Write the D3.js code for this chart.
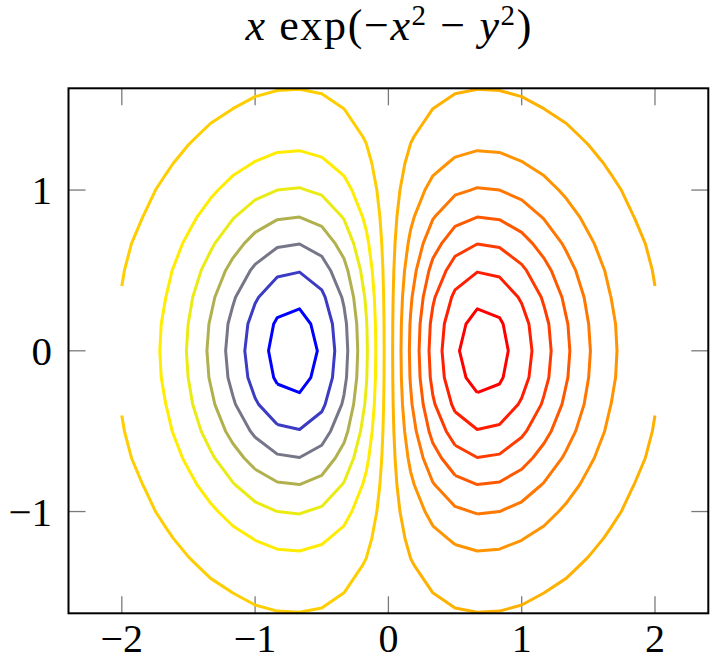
<!DOCTYPE html>
<html>
<head>
<meta charset="utf-8">
<script src="https://cdn.jsdelivr.net/npm/d3@7"></script>
<style>
  html, body { margin: 0; padding: 0; background: #fff; }
  svg { display: block; }
</style>
</head>
<body>
<svg id="chart" width="714" height="662"></svg>
<script>
// ---- data ----
// Surface named in the title: z = x*exp(-x^2 - y^2), sampled 25x25 on [-2,2]^2
const sampleCount = 25;
const sampleDomain = [-2, 2];
// contour levels (14 levels)
const levels = [-0.397, -0.336, -0.275, -0.214, -0.153, -0.092, -0.031,
                 0.031,  0.092,  0.153,  0.214,  0.275,  0.336,  0.397];
const xTicks = [-2, -1, 0, 1, 2];
const yTicks = [-1, 0, 1];
const titleParts = ["x", " exp(−", "x", "2", " − ", "y", "2", ")"];

// ---- layout ----
const svg = d3.select("#chart");
const pL = 68.5, pR = 708.3, pT = 88.3, pB = 613.3;
const x = d3.scaleLinear().domain([-2.4, 2.4]).range([pL, pR]);
const y = d3.scaleLinear().domain([-1.633, 1.633]).range([pB, pT]);

// colormap "hot": blue -> yellow -> orange -> red
const cmap = d3.scaleLinear()
  .domain([0, 1, 2, 3])
  .range(["rgb(0,0,255)", "rgb(255,255,0)", "rgb(255,128,0)", "rgb(255,0,0)"])
  .interpolate(d3.interpolateRgb);
const levelColor = d3.scaleLinear()
  .domain([d3.min(levels), d3.max(levels)]).range([0, 3]);

// ---- grid ----
const xs = d3.range(sampleCount).map(k => sampleDomain[0] + k * (sampleDomain[1] - sampleDomain[0]) / (sampleCount - 1));
const ys = xs.slice();
const surface = (a, b) => a * Math.exp(-a * a - b * b);
const grid = ys.map(yy => xs.map(xx => surface(xx, yy))); // grid[j][i]

// marching squares -> segments
function contourSegments(L) {
  const segs = [];
  for (let j = 0; j < ys.length - 1; j++) {
    for (let i = 0; i < xs.length - 1; i++) {
      const c = [
        [xs[i], ys[j], grid[j][i]],
        [xs[i + 1], ys[j], grid[j][i + 1]],
        [xs[i + 1], ys[j + 1], grid[j + 1][i + 1]],
        [xs[i], ys[j + 1], grid[j + 1][i]]
      ];
      const pts = [];
      for (let e = 0; e < 4; e++) {
        const a = c[e], b = c[(e + 1) % 4];
        if ((a[2] - L) * (b[2] - L) < 0) {
          const t = (L - a[2]) / (b[2] - a[2]);
          pts.push([a[0] + t * (b[0] - a[0]), a[1] + t * (b[1] - a[1])]);
        }
      }
      if (pts.length === 2) segs.push(pts);
      else if (pts.length === 4) {
        const center = (c[0][2] + c[1][2] + c[2][2] + c[3][2]) / 4;
        if ((center - L) * (c[0][2] - L) > 0) { segs.push([pts[0], pts[1]]); segs.push([pts[2], pts[3]]); }
        else { segs.push([pts[0], pts[3]]); segs.push([pts[1], pts[2]]); }
      }
    }
  }
  return segs;
}

// chain segments into polylines
function chain(segs) {
  const key = p => p[0].toFixed(6) + "," + p[1].toFixed(6);
  const used = new Array(segs.length).fill(false);
  const byKey = new Map();
  segs.forEach((s, idx) => {
    s.forEach(p => {
      const k = key(p);
      if (!byKey.has(k)) byKey.set(k, []);
      byKey.get(k).push(idx);
    });
  });
  const lines = [];
  for (let s = 0; s < segs.length; s++) {
    if (used[s]) continue;
    used[s] = true;
    let line = [segs[s][0], segs[s][1]];
    for (let dir = 0; dir < 2; dir++) {
      let extended = true;
      while (extended) {
        extended = false;
        const end = line[line.length - 1];
        const cand = byKey.get(key(end)) || [];
        for (const idx of cand) {
          if (used[idx]) continue;
          used[idx] = true;
          const sg = segs[idx];
          line.push(key(sg[0]) === key(end) ? sg[1] : sg[0]);
          extended = true;
          break;
        }
      }
      line.reverse();
    }
    lines.push(line);
  }
  return lines;
}

svg.append("defs").append("clipPath").attr("id", "clip")
  .append("rect").attr("x", pL).attr("y", pT)
  .attr("width", pR - pL).attr("height", pB - pT);

// ticks (inside, both sides)
const tickLen = 17;
const tg = svg.append("g").attr("stroke", "#7a7a7a").attr("stroke-width", 1.3);
xTicks.forEach(t => {
  tg.append("line").attr("x1", x(t)).attr("x2", x(t)).attr("y1", pB).attr("y2", pB - tickLen);
  tg.append("line").attr("x1", x(t)).attr("x2", x(t)).attr("y1", pT).attr("y2", pT + tickLen);
});
yTicks.forEach(t => {
  tg.append("line").attr("y1", y(t)).attr("y2", y(t)).attr("x1", pL).attr("x2", pL + tickLen);
  tg.append("line").attr("y1", y(t)).attr("y2", y(t)).attr("x1", pR).attr("x2", pR - tickLen);
});

// contours
const lineGen = d3.line().x(d => x(d[0])).y(d => y(d[1]));
const cg = svg.append("g").attr("clip-path", "url(#clip)");
levels.forEach(L => {
  const lines = chain(contourSegments(L));
  const col = cmap(levelColor(L));
  lines.forEach(ln => {
    cg.append("path").attr("d", lineGen(ln))
      .attr("fill", "none").attr("stroke", col)
      .attr("stroke-width", 3).attr("stroke-linejoin", "round").attr("stroke-linecap", "butt");
  });
});

// frame
svg.append("rect").attr("x", pL).attr("y", pT)
  .attr("width", pR - pL).attr("height", pB - pT)
  .attr("fill", "none").attr("stroke", "#000").attr("stroke-width", 2);

// tick labels
const fmt = v => (v < 0 ? "\u2212" : "") + Math.abs(v);
const font = "'Liberation Serif', 'Times New Roman', serif";
svg.append("g").selectAll("text").data(xTicks).join("text")
  .attr("x", d => x(d)).attr("y", 652)
  .attr("text-anchor", "middle").attr("font-family", font).attr("font-size", 40)
  .text(fmt);
svg.append("g").selectAll("text").data(yTicks).join("text")
  .attr("x", 52).attr("y", d => y(d) + 14)
  .attr("text-anchor", "end").attr("font-family", font).attr("font-size", 41)
  .text(fmt);

// title
const title = svg.append("text").attr("x", x(0)).attr("y", 40)
  .attr("text-anchor", "middle").attr("font-family", font).attr("font-size", 44)
  .attr("textLength", 286).attr("lengthAdjust", "spacing");
title.append("tspan").attr("font-style", "italic").text(titleParts[0]);
title.append("tspan").text(titleParts[1]);
title.append("tspan").attr("font-style", "italic").text(titleParts[2]);
title.append("tspan").attr("font-size", 29).attr("dy", -15).text(titleParts[3]);
title.append("tspan").attr("dy", 15).text(titleParts[4]);
title.append("tspan").attr("font-style", "italic").text(titleParts[5]);
title.append("tspan").attr("font-size", 29).attr("dy", -15).text(titleParts[6]);
title.append("tspan").attr("dy", 15).text(titleParts[7]);
</script>
</body>
</html>
